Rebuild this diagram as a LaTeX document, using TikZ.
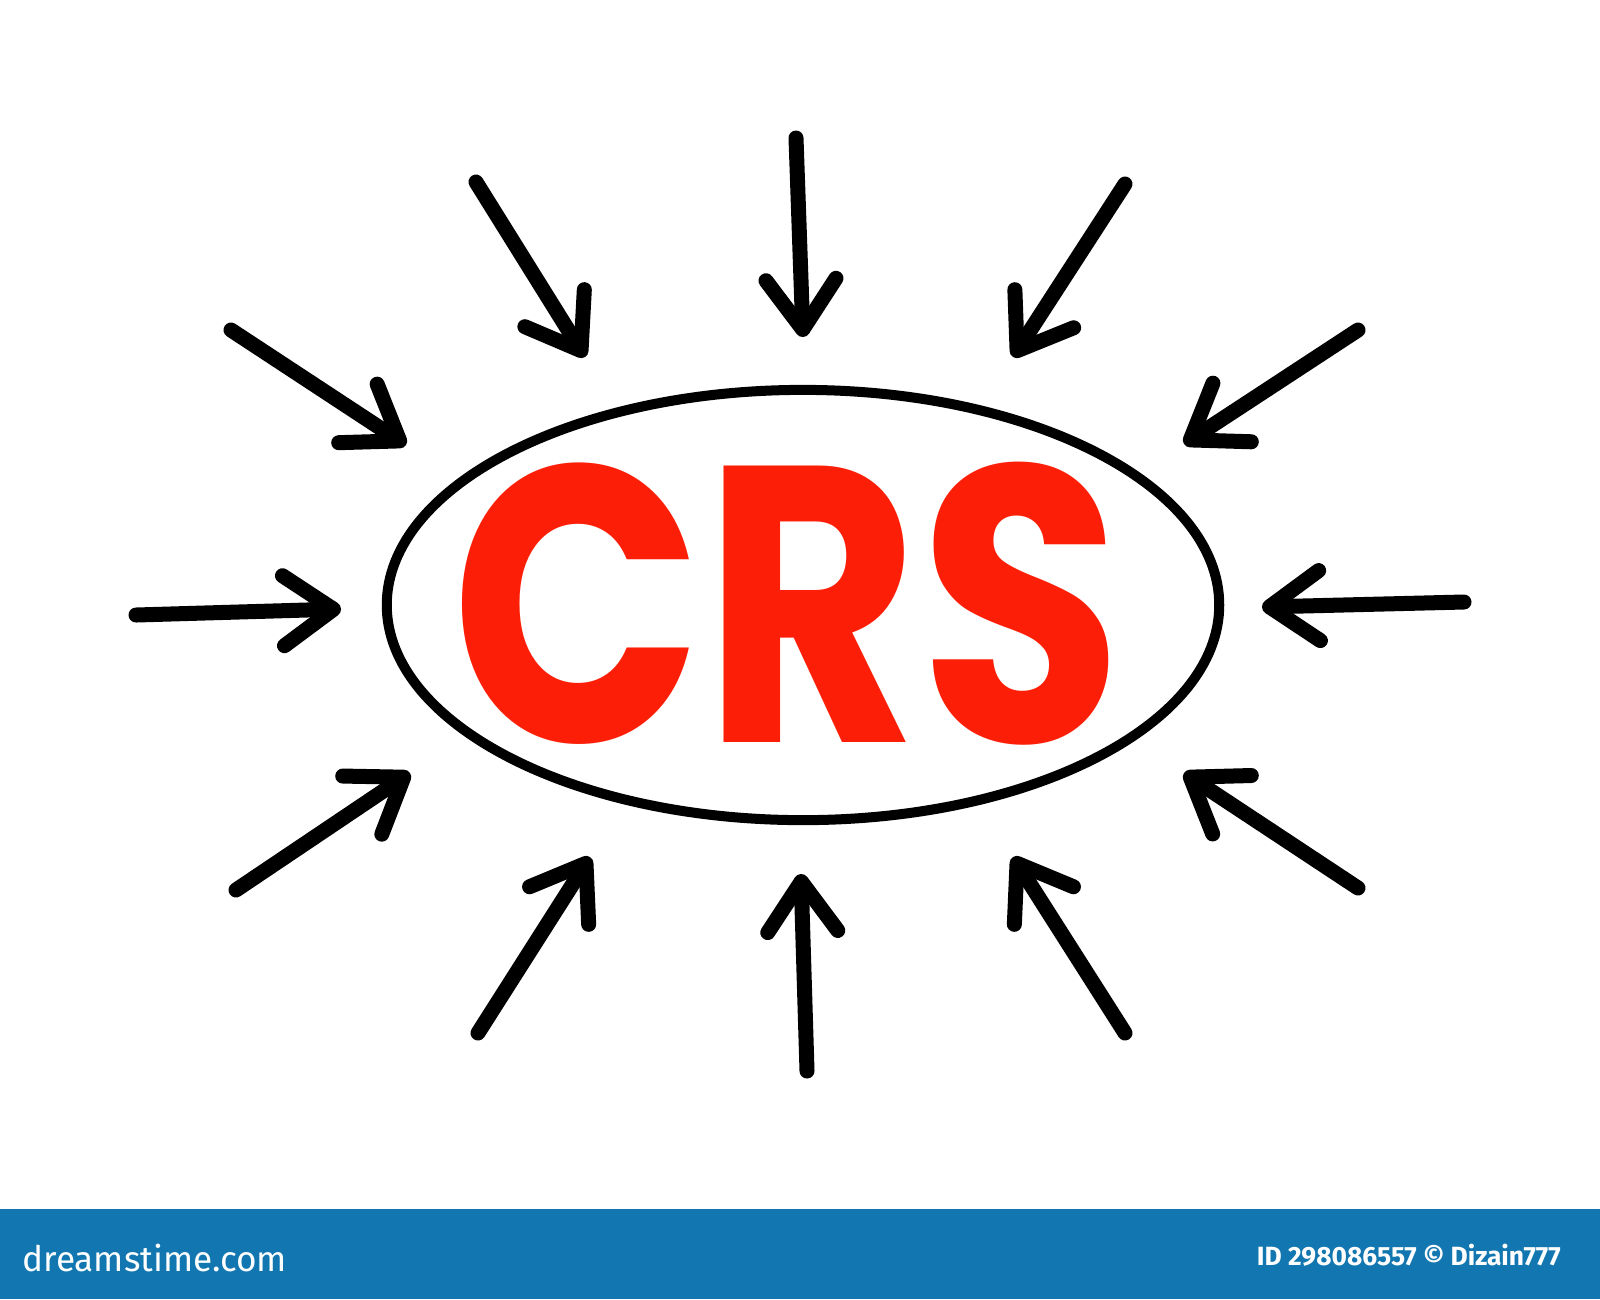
\documentclass[tikz,border=0pt]{standalone}
\usepackage{fontspec}
\setmainfont{Fira Sans}
\newfontfamily\crsfont{Poppins}
\usetikzlibrary{arrows.meta,shapes.geometric}
\definecolor{crsred}{RGB}{252,30,6}
\definecolor{barblue}{RGB}{18,119,176}
\tikzset{
	pointer/.style={line width=0.15cm, line cap=round, -{Straight Barb[length=5mm,width=7mm,round]}},
	ring/.style={draw, ellipse, line width=0.1cm, minimum width=8.32cm, minimum height=4.3cm, inner sep=0pt},
}

\begin{document}
\begin{tikzpicture}[x=0.01cm,y=-0.01cm]
\useasboundingbox (0,0) rectangle (1600,1299);
\begin{scope}
	\fill[barblue] (0,1209) rectangle (1600,1299);
	\node[ring] (oval) at (803,605) {};
	\node[text=crsred, font=\crsfont\bfseries\fontsize{112}{112}\selectfont] (crs) at (787,604) {\scalebox{0.84}[1]{CRS}};
	\coordinate (t1) at (796,138);   \coordinate (h1) at (803,337);
	\coordinate (t2) at (476,182);   \coordinate (h2) at (585,357);
	\coordinate (t3) at (1125,184);  \coordinate (h3) at (1013,357);
	\coordinate (t4) at (231,330);   \coordinate (h4) at (406,445);
	\coordinate (t5) at (1358,330);  \coordinate (h5) at (1184,444);
	\coordinate (t6) at (136,615);   \coordinate (h6) at (341,609);
	\coordinate (t7) at (1464,602);  \coordinate (h7) at (1262,607);
	\coordinate (t8) at (236,890);   \coordinate (h8) at (410,773);
	\coordinate (t9) at (1358,888);  \coordinate (h9) at (1184,773);
	\coordinate (t10) at (478,1033); \coordinate (h10) at (590,857);
	\coordinate (t11) at (1125,1033); \coordinate (h11) at (1013,857);
	\coordinate (t12) at (807,1071); \coordinate (h12) at (801,874);
	\draw[pointer] (t1) -- (h1);
	\draw[pointer] (t2) -- (h2);
	\draw[pointer] (t3) -- (h3);
	\draw[pointer] (t4) -- (h4);
	\draw[pointer] (t5) -- (h5);
	\draw[pointer] (t6) -- (h6);
	\draw[pointer] (t7) -- (h7);
	\draw[pointer] (t8) -- (h8);
	\draw[pointer] (t9) -- (h9);
	\draw[pointer] (t10) -- (h10);
	\draw[pointer] (t11) -- (h11);
	\draw[pointer] (t12) -- (h12);
	\node[anchor=west, text=white, font=\fontsize{10}{11}\selectfont] (site) at (10,1258) {dreamstime.com};
	\node[anchor=east, text=white, font=\bfseries\fontsize{7.5}{8}\selectfont] (credit) at (1573,1255) {ID 298086557 © Dizain777};
\end{scope}
\end{tikzpicture}
\end{document}
